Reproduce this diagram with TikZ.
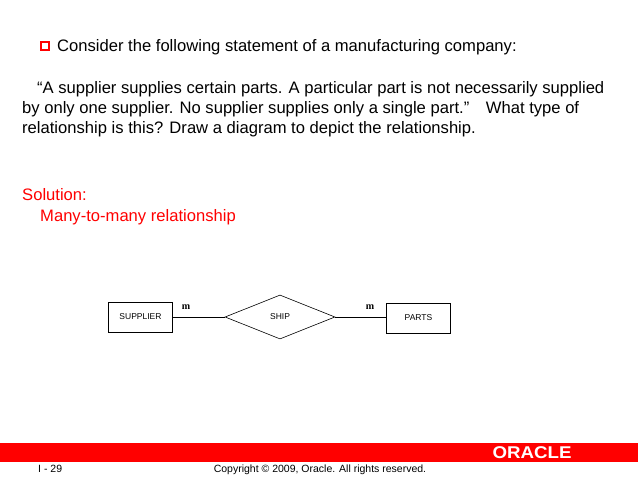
\documentclass[tikz,border=0pt]{standalone}
\usepackage{fontspec}
\setmainfont{Liberation Sans}
\newfontfamily\serifm{Liberation Serif}
\usetikzlibrary{shapes.geometric}
\definecolor{ored}{RGB}{255,0,0}
\tikzset{
 txt/.style={anchor=base west,inner sep=0pt,font=\fontsize{16.6}{19}\selectfont},
 ent/.style={draw,semithick,minimum width=64pt,minimum height=30pt,inner sep=0pt,font=\fontsize{8.5}{10}\selectfont},
 rel/.style={draw,semithick,diamond,aspect=2.5,minimum width=110pt,minimum height=44pt,inner sep=0pt,font=\fontsize{8.5}{10}\selectfont},
 card/.style={font=\serifm\fontsize{10}{12}\selectfont\bfseries,inner sep=0pt}
}
\begin{document}
\begin{tikzpicture}[x=1pt,y=-1pt]
\useasboundingbox (0,0) rectangle (638,478);
\fill[white] (0,0) rectangle (638,478);
\draw[ored,line width=1.6pt] (41,42) rectangle (49,50);
\node[txt] (t1) at (57,52) {Consider the following statement of a manufacturing company:};
\node[txt] (t2) at (37,94) {“A supplier supplies certain parts. A particular part is not necessarily supplied};
\node[txt] (t3) at (22,114) {by only one supplier. No supplier supplies only a single part.”\quad What type of};
\node[txt] (t4) at (22,134) {relationship is this? Draw a diagram to depict the relationship.};
\node[txt,text=ored] (s1) at (22,201) {Solution:};
\node[txt,text=ored] (s2) at (40,222) {Many-to-many relationship};
\node[ent] (sup) at (140.5,317) {SUPPLIER};
\node[rel] (ship) at (280,317) {SHIP};
\node[ent] (parts) at (418.5,318) {PARTS};
\draw[semithick] (sup.east |- ship.west) -- (ship.west);
\draw[semithick] (ship.east) -- (parts.west |- ship.east);
\node[card] (m1) at (186,307) {m};
\node[card] (m2) at (370,307) {m};
\fill[ored] (0,443) rectangle (638,462);
\node[font=\bfseries\fontsize{17}{18}\selectfont,text=white,inner sep=0pt,xscale=1.1] (or) at (532,453) {ORACLE};
\node[anchor=base west,inner sep=0pt,font=\fontsize{10.5}{12}\selectfont] (pg) at (38,473) {I - 29};
\node[anchor=base,inner sep=0pt,font=\fontsize{10.5}{12}\selectfont] (cp) at (320,473) {Copyright © 2009, Oracle. All rights reserved.};
\end{tikzpicture}
\end{document}
